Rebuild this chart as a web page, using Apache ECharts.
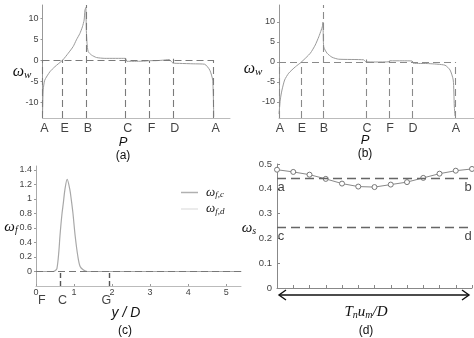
<!DOCTYPE html>
<html><head><meta charset="utf-8">
<script src="https://cdn.jsdelivr.net/npm/echarts@6/dist/echarts.min.js"></script>
<style>html,body{margin:0;padding:0;background:#fff}#c{width:474px;height:338px}</style>
</head><body><div id="c"></div>
<script>
// ---------- Panel (a) ----------
const aP = [0, 0.2, 0.4, 1.3, 4.3, 7.2, 11.8, 15, 17.9, 19.8, 21.8, 23.3, 24.3, 24.8, 25.3, 25.6, 26.0, 26.7, 28.6, 31.5, 36.4, 48.5, 49.2, 55, 60, 62.6, 66, 70, 74, 76.1, 80, 88, 94.7, 97.7, 99.4, 100];
const aW = [-13.5, -9.5, -7.1, -4.8, -2.8, -1.6, 0, 1.6, 3.2, 4.8, 6.3, 7.9, 9.5, 11.9, 12.5, 7, 4, 2.0, 1.2, 0.6, 0.4, 0.4, -0.3, -0.3, -0.25, -0.15, -0.15, -0.05, 0.1, -0.7, -0.8, -0.9, -1.0, -2.4, -4.8, -13.5];
const aMarkP = [0, 11.8, 25.3, 48.6, 62.6, 76.1, 100];
const aMarkTop = [0, 0, 13.1, 0.4, -0.25, 0.3, 0];
const aNames = ['A', 'E', 'B', 'C', 'F', 'D', 'A'];
// ---------- Panel (b) ----------
const bP = [0, 0.7, 1.7, 3.2, 5.5, 9.3, 12.5, 17.8, 20.6, 22.6, 24, 24.6, 25, 25.4, 27.3, 30.1, 33.9, 48.1, 49.4, 55, 62.5, 63, 70, 75.6, 76.2, 85, 94.3, 97.2, 99, 99.6, 100];
const bW = [-13, -9.5, -7, -4.5, -2.8, -1.2, -0.1, 2.2, 4.25, 6.3, 8, 8.8, 10, 3.8, 2.2, 1.2, 0.7, 0.55, 0.05, 0.0, 0.05, 0.3, 0.3, 0.25, -0.3, -0.4, -0.8, -2, -4.5, -11, -13.5];
const bMarkP = [0, 12.5, 25, 49.4, 62.5, 75.6, 100];
const bMarkTop = [0, 0, 14.25, 0.6, 0.3, 0.2, 0];
const bNames = ['A', 'E', 'B', 'C', 'F', 'D', 'A'];
// ---------- Panel (c) ----------
const cY = [0, 0.45, 0.5, 0.55, 0.6, 0.63, 0.68, 0.72, 0.76, 0.82, 0.89, 0.93, 0.97, 1.03, 1.1, 1.16, 1.25, 1.35, 5.4];
const cWc = [0, 0, 0.01, 0.04, 0.27, 0.49, 0.78, 0.95, 1.13, 1.27, 1.13, 0.98, 0.81, 0.49, 0.21, 0.07, 0.02, 0, 0];
const cYd = [0, 5.4];
const cWd = [0, 0];
const cMarkY = [0.65, 1.93];
const cLetters = ['F', 'C', 'G'];
const cLetterY = [0.15, 0.7, 1.85];
// ---------- Panel (d) ----------
const dT = [0, 1, 2, 3, 4, 5, 6, 7, 8, 9, 10, 11, 12];
const dW = [0.477, 0.468, 0.457, 0.440, 0.421, 0.409, 0.407, 0.417, 0.427, 0.444, 0.461, 0.473, 0.480];
const dLevels = [0.443, 0.245];
const dLetters = [['a', 'b'], ['c', 'd']];

const sans = 'Liberation Sans, Arial, sans-serif';
const serif = 'Liberation Serif, DejaVu Serif, serif';
const zip = (xs, ys) => xs.map((x, i) => [x, ys[i]]);

function markLines(xs, tops, yMin, extra) {
  const d = xs.map((x, i) => [{coord: [x, yMin]}, {coord: [x, tops[i]]}]);
  return d.concat(extra || []);
}
function letterSeries(xi, yi, xs, names, y, offX, dist) {
  return {
    type: 'scatter', xAxisIndex: xi, yAxisIndex: yi, symbolSize: 0, silent: true, clip: false,
    data: xs.map((x, i) => ({value: [x, y], name: names[i]})),
    label: {show: true, position: 'bottom', distance: dist, offset: [offX, 0], formatter: p => p.name,
      fontFamily: sans, fontSize: 12.5, color: '#111'},
    z: 5
  };
}
const dashStyle = (c) => ({color: c, type: [7, 4], width: 1.1});

const yAxisBase = (gi, min, max, extra) => Object.assign({
  gridIndex: gi, type: 'value', min: min, max: max, splitLine: {show: false},
  axisLine: {show: true, lineStyle: {color: '#999', width: 1}},
  axisTick: {show: true, length: 2, lineStyle: {color: '#999'}},
  axisLabel: {fontFamily: sans, fontSize: 9, color: '#444', margin: 4, showMinLabel: false, showMaxLabel: false}
}, extra || {});

const option = {
  animation: false,
  backgroundColor: '#fff',
  grid: [
    {left: 42.5, top: 5, width: 187.5, height: 113},
    {left: 279, top: 5, width: 195, height: 113},
    {left: 36, top: 166, width: 205, height: 120},
    {left: 277, top: 164, width: 195, height: 124}
  ],
  xAxis: [
    {gridIndex: 0, type: 'value', min: 0, max: 109.5, splitLine: {show: false}, axisLabel: {show: false}, axisTick: {show: false},
      axisLine: {onZero: false, lineStyle: {color: '#bbb'}}},
    {gridIndex: 1, type: 'value', min: 0, max: 110.8, splitLine: {show: false}, axisLabel: {show: false}, axisTick: {show: false},
      axisLine: {onZero: false, lineStyle: {color: '#bbb'}}},
    {gridIndex: 2, type: 'value', min: 0, max: 5.39, interval: 1, splitLine: {show: false},
      axisLine: {onZero: false, lineStyle: {color: '#bbb'}},
      axisTick: {show: true, inside: true, length: 2, lineStyle: {color: '#999'}},
      axisLabel: {fontFamily: sans, fontSize: 9, color: '#444', margin: 2, showMaxLabel: false}},
    {gridIndex: 3, type: 'value', min: 0, max: 12, interval: 1, splitLine: {show: false}, axisLabel: {show: false},
      axisLine: {onZero: false, lineStyle: {color: '#888'}},
      axisTick: {show: true, inside: true, length: 3, lineStyle: {color: '#888'}}}
  ],
  yAxis: [
    yAxisBase(0, -13.8, 13.1, {splitNumber: 5}),
    yAxisBase(1, -14, 14.25, {splitNumber: 5}),
    yAxisBase(2, -0.2, 1.455, {interval: 0.2, axisLine: {show: true, lineStyle: {color: '#aaa'}}}),
    yAxisBase(3, 0, 0.5, {interval: 0.1, axisLine: {show: true, lineStyle: {color: '#888'}},
      axisTick: {show: true, inside: true, length: 3, lineStyle: {color: '#888'}},
      axisLabel: {fontFamily: sans, fontSize: 9.5, color: '#444', margin: 5, showMinLabel: true, showMaxLabel: true}})
  ],
  legend: {
    left: 176, top: 181, orient: 'vertical', itemWidth: 17, itemHeight: 1.5, itemGap: 3, icon: 'rect',
    data: [{name: 'wfc'}, {name: 'wfd', itemStyle: {opacity: 0.2}}],
    formatter: n => n === 'wfc' ? '{w|ω}{s|f,c}' : '{w|ω}{s|f,d}',
    textStyle: {padding: [0, 0, 0, 3], color: '#222',
      rich: {w: {fontFamily: serif, fontStyle: 'italic', fontSize: 13, color: '#222'},
             s: {fontFamily: serif, fontStyle: 'italic', fontSize: 9, color: '#222', verticalAlign: 'bottom', padding: [5, 0, 0, 0]}}}
  },
  series: [
    // (a)
    {type: 'line', xAxisIndex: 0, yAxisIndex: 0, data: zip(aP, aW), symbol: 'none', smooth: 0.2,
      lineStyle: {color: '#9a9a9a', width: 1}, z: 3,
      markLine: {silent: true, symbol: 'none', label: {show: false}, lineStyle: dashStyle('#7a7a7a'),
        data: markLines(aMarkP, aMarkTop, -13.8, [[{coord: [0, 0]}, {coord: [100, 0]}]])}},
    letterSeries(0, 0, aMarkP, aNames, -13.8, 2, 4),
    // (b)
    {type: 'line', xAxisIndex: 1, yAxisIndex: 1, data: zip(bP, bW), symbol: 'none', smooth: 0.2,
      lineStyle: {color: '#9a9a9a', width: 1}, z: 3,
      markLine: {silent: true, symbol: 'none', label: {show: false}, lineStyle: dashStyle('#8a8a8a'),
        data: markLines(bMarkP, bMarkTop, -14, [[{coord: [0, 0]}, {coord: [100, 0]}]])}},
    letterSeries(1, 1, bMarkP, bNames, -14, 1, 4),
    // (c)
    {name: 'wfc', type: 'line', xAxisIndex: 2, yAxisIndex: 2, data: zip(cY, cWc), symbol: 'none', smooth: 0.3,
      color: '#b0b0b0', itemStyle: {color: '#b0b0b0'},
      lineStyle: {color: '#a8a8a8', width: 1.2}, z: 3},
    {name: 'wfd', type: 'line', xAxisIndex: 2, yAxisIndex: 2, data: zip(cYd, cWd), symbol: 'none',
      color: '#777', itemStyle: {color: '#777'},
      lineStyle: {color: '#777', width: 1.1, type: [7, 4]}, z: 4,
      markLine: {silent: true, symbol: 'none', label: {show: false}, lineStyle: {color: '#555', type: [5, 3], width: 1.4},
        data: markLines(cMarkY, cMarkY.map(() => 0), -0.2)}},
    letterSeries(2, 2, cLetterY, cLetters, -0.2, 0, 8),
    // (d)
    {type: 'line', xAxisIndex: 3, yAxisIndex: 3, data: zip(dT, dW), symbol: 'circle', symbolSize: 5,
      itemStyle: {color: '#fff', borderColor: '#777', borderWidth: 1},
      lineStyle: {color: '#888', width: 1}, z: 4,
      markLine: {silent: true, symbol: 'none', label: {show: false}, lineStyle: {color: '#666', type: [9, 5], width: 1.3},
        data: dLevels.map(v => [{coord: [0, v]}, {coord: [12, v]}])}},
    {type: 'scatter', xAxisIndex: 3, yAxisIndex: 3, symbolSize: 0, silent: true, clip: false, z: 5,
      data: dLevels.flatMap((v, i) => [
        {value: [0, v], name: dLetters[i][0], label: {offset: [4, 0]}},
        {value: [12, v], name: dLetters[i][1], label: {offset: [-4, 0]}}
      ]),
      label: {show: true, position: 'bottom', distance: 3, formatter: p => p.name, fontFamily: sans, fontSize: 13, color: '#111'}}
  ],
  graphic: [
    // axis titles
    {type: 'text', x: 22, y: 72, style: {text: '{w|ω}{s|w}', align: 'center', verticalAlign: 'middle',
      rich: {w: {fontFamily: serif, fontStyle: 'italic', fontSize: 16, fill: '#111'}, s: {fontFamily: serif, fontStyle: 'italic', fontSize: 11, fill: '#111', verticalAlign: 'bottom', padding: [6, 0, 0, 0]}}}},
    {type: 'text', x: 123, y: 142, style: {text: 'P', fontFamily: sans, fontStyle: 'italic', fontSize: 13, fill: '#111', align: 'center', verticalAlign: 'middle'}},
    {type: 'text', x: 123, y: 156, style: {text: '(a)', fontFamily: sans, fontSize: 12, fill: '#111', align: 'center', verticalAlign: 'middle'}},
    {type: 'text', x: 253, y: 69, style: {text: '{w|ω}{s|w}', align: 'center', verticalAlign: 'middle',
      rich: {w: {fontFamily: serif, fontStyle: 'italic', fontSize: 16, fill: '#111'}, s: {fontFamily: serif, fontStyle: 'italic', fontSize: 11, fill: '#111', verticalAlign: 'bottom', padding: [6, 0, 0, 0]}}}},
    {type: 'text', x: 365, y: 140, style: {text: 'P', fontFamily: sans, fontStyle: 'italic', fontSize: 13, fill: '#111', align: 'center', verticalAlign: 'middle'}},
    {type: 'text', x: 365, y: 154, style: {text: '(b)', fontFamily: sans, fontSize: 12, fill: '#111', align: 'center', verticalAlign: 'middle'}},
    {type: 'text', x: 11, y: 227, style: {text: '{w|ω}{s|f}', align: 'center', verticalAlign: 'middle',
      rich: {w: {fontFamily: serif, fontStyle: 'italic', fontSize: 15, fill: '#111'}, s: {fontFamily: serif, fontStyle: 'italic', fontSize: 10, fill: '#111', verticalAlign: 'bottom', padding: [6, 0, 0, 0]}}}},
    {type: 'text', x: 126, y: 313, style: {text: 'y / D', fontFamily: sans, fontStyle: 'italic', fontSize: 14, fill: '#111', align: 'center', verticalAlign: 'middle'}},
    {type: 'text', x: 125, y: 331, style: {text: '(c)', fontFamily: sans, fontSize: 12, fill: '#111', align: 'center', verticalAlign: 'middle'}},
    {type: 'text', x: 249, y: 228, style: {text: '{w|ω}{s|s}', align: 'center', verticalAlign: 'middle',
      rich: {w: {fontFamily: serif, fontStyle: 'italic', fontSize: 15, fill: '#111'}, s: {fontFamily: serif, fontStyle: 'italic', fontSize: 10, fill: '#111', verticalAlign: 'bottom', padding: [6, 0, 0, 0]}}}},
    {type: 'text', x: 366, y: 312, style: {text: '{m|T}{s|n}{m|u}{s|m}{m|/D}', align: 'center', verticalAlign: 'middle',
      rich: {m: {fontFamily: serif, fontStyle: 'italic', fontSize: 15, fill: '#111'}, s: {fontFamily: serif, fontStyle: 'italic', fontSize: 10, fill: '#111', verticalAlign: 'bottom', padding: [6, 0, 0, 0]}}}},
    {type: 'text', x: 366, y: 331, style: {text: '(d)', fontFamily: sans, fontSize: 12, fill: '#111', align: 'center', verticalAlign: 'middle'}},
    // double arrow (d)
    {type: 'line', shape: {x1: 279, y1: 295, x2: 469, y2: 295}, style: {stroke: '#111', lineWidth: 1.4}},
    {type: 'polyline', shape: {points: [[286, 290], [279, 295], [286, 300]]}, style: {stroke: '#111', lineWidth: 1.4, fill: null}},
    {type: 'polyline', shape: {points: [[462, 290], [469, 295], [462, 300]]}, style: {stroke: '#111', lineWidth: 1.4, fill: null}}
  ]
};
const chart = echarts.init(document.getElementById('c'), null, {renderer: 'canvas'});
chart.setOption(option);
</script></body></html>
